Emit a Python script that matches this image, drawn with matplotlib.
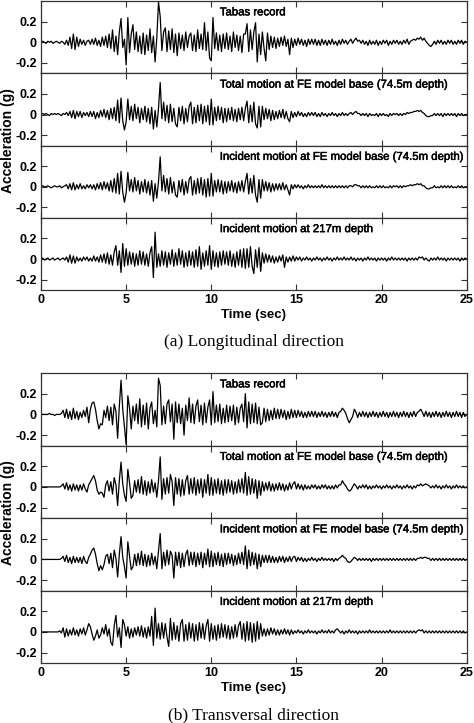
import numpy as np
import matplotlib
matplotlib.use('Agg')
import matplotlib.pyplot as plt
import matplotlib.patheffects as pe

plt.rcParams['font.family'] = ['Liberation Sans', 'DejaVu Sans']

# Accelerations, in hundredths of g, one sample every 0.1 s
# (one line per second, last value at t = 25 s).
DT = 0.1

LON_TABAS = [
    0, 1, 0, -1, 1, 0, 1, -1, 0, 1,
    0, -1, 1, 0, -2, 2, -3, 5, -6, 8,
    -7, 5, -4, 3, -2, 2, -3, 1, 2, -2,
    3, -2, 4, -3, 2, -4, 5, -3, 6, -5,
    8, -6, 12, -9, 6, -12, 10, 23, -5, 3,
    -22, 24, -10, 8, 17, -7, 10, -9, 6, -11,
    9, -12, 7, -8, 13, -10, 6, -19, 4, 39,
    25, -8, 10, 14, -9, 11, -7, 13, -10, 8,
    -13, 9, -6, 7, -8, 10, -5, 6, 9, -8,
    7, -9, 12, -6, 8, -7, 19, -8, 10, -15,
    -18, 24, -6, 9, -8, 7, -9, 8, -6, 9,
    -7, 6, -9, 10, -5, 7, -8, 6, -10, 8,
    8, 18, -9, 12, -7, 10, 19, -19, 8, -12,
    10, -6, -18, 9, -7, 6, -5, 5, -6, 4,
    -4, 5, -3, 6, -4, 3, -12, 4, -5, 3,
    -3, 4, -2, 3, -3, 2, -4, 3, -2, 3,
    -2, 3, -3, 2, -3, 3, -2, 2, -3, 2,
    -2, 3, -2, 1, -3, 2, -2, 3, -1, 2,
    -2, 1, 3, -1, 2, 4, 1, 2, -1, 2,
    -2, 1, -3, 2, -2, 1, -2, 2, -3, 1,
    -2, 2, -1, 2, -3, 1, -2, 2, -1, 2,
    -2, 1, -2, 2, -1, 3, -2, 1, 2, 3,
    2, 4, 3, 5, 2, 4, 1, -1, -3, -4,
    -2, 1, -2, 2, -1, 2, -2, 1, -2, 2,
    -1, 2, -2, 1, -2, 2, -1, 2, -2, 1,
    0,
]

LON_TOTAL = [
    0, 1, 0, 1, 0, -1, 1, 0, 1, 0,
    1, 0, -1, 1, 0, 2, -1, 3, -3, 4,
    -4, 3, -2, 3, -3, 2, -1, 2, -2, 3,
    -2, 3, -4, 2, -3, 4, -2, 5, -3, 4,
    -5, 6, -4, 7, -6, 14, -8, 16, -6, -15,
    -7, 15, -5, 8, -6, 10, -4, 7, -8, 6,
    -5, 8, -7, 6, -9, 7, -14, 4, -12, 6,
    31, -4, 12, -6, 9, -8, 10, -7, 6, -9,
    -12, 7, -6, 8, -9, 6, -7, 8, 12, -9,
    7, -8, 9, -6, 10, -9, 8, -7, 9, -10,
    15, -10, 7, -6, 8, -5, 7, -8, 6, -7,
    6, -5, 7, -6, 5, -7, 6, -5, 7, -6,
    6, 13, -8, 9, -7, 12, -9, -13, 8, -12,
    8, -5, 6, -4, 5, -6, 4, -5, 3, -4,
    4, -3, 5, -4, 3, -4, -7, 3, -3, 2,
    -2, 3, -1, 2, -2, 1, -2, 2, -1, 2,
    -1, 2, -2, 1, -2, 2, -1, 1, -2, 1,
    -1, 2, -1, 1, -2, 1, -1, 2, -1, 1,
    -1, 1, 2, 0, 2, 3, 1, 1, -1, 1,
    -1, 1, -2, 1, -1, 0, -1, 1, -2, 1,
    -1, 1, -1, 0, -2, 1, -1, 1, 0, 1,
    -1, 1, -1, 1, 0, 2, 1, 2, 2, 3,
    3, 4, 3, 4, 2, 1, -1, -2, -2, -1,
    -1, 1, -1, 1, -1, 1, -2, 1, -1, 1,
    -1, 1, -1, 1, -2, 1, -1, 1, -1, 0,
    0,
]

LON_INC_FE = [
    0, 1, 0, 0, 1, 0, -1, 0, 1, 0,
    0, 1, -1, 0, 1, 2, -2, 3, -3, 4,
    -3, 2, -2, 3, -2, 1, -2, 2, -1, 2,
    -2, 2, -3, 3, -2, 4, -3, 5, -2, 4,
    -4, 6, -5, 8, -6, 13, -7, 15, -5, -15,
    -6, 14, -4, 7, -5, 9, -4, 6, -7, 5,
    -5, 7, -6, 5, -8, 6, -14, 3, -11, 5,
    29, -4, 11, -5, 8, -7, 9, -6, 5, -8,
    -10, 6, -5, 7, -8, 5, -6, 7, 10, -8,
    6, -7, 8, -6, 9, -8, 7, -10, 8, -9,
    13, -9, 6, -5, 7, -5, 6, -7, 5, -6,
    5, -4, 6, -5, 4, -6, 5, -4, 6, -5,
    5, 13, -7, 8, -6, 11, -8, -15, 7, -11,
    7, -4, 5, -4, 4, -5, 3, -4, 3, -3,
    3, -3, 4, -3, 2, -3, -8, 2, -2, 2,
    -1, 2, -1, 1, -2, 1, -1, 2, -1, 1,
    -1, 1, -1, 1, -1, 2, -1, 1, -1, 1,
    -1, 1, -1, 1, -1, 1, -1, 1, -1, 1,
    -1, 1, 1, 0, 2, 2, 1, 1, -1, 1,
    -1, 1, -1, 1, -1, 0, -1, 1, -1, 1,
    -1, 1, -1, 0, -1, 1, -1, 1, 0, 1,
    -1, 1, -1, 1, 0, 1, 1, 2, 1, 2,
    2, 3, 2, 3, 1, 1, -1, -2, -2, -1,
    -1, 1, -1, 0, -1, 1, -1, 1, -1, 1,
    -1, 1, -1, 0, -1, 1, -1, 1, -1, 0,
    0,
]

LON_INC_217 = [
    0, 1, -1, 0, 1, -1, 0, 1, -1, 0,
    1, -1, 0, 1, -1, 2, -3, 4, -4, 3,
    -4, 2, -2, 1, -2, 2, -1, 2, -2, 1,
    -2, 3, -2, 2, -3, 4, -3, 5, -4, 6,
    -5, 4, -6, 7, 13, -6, 8, -13, 15, -7,
    10, -6, 7, -5, 6, -7, 5, -6, 8, -5,
    7, -6, 5, -7, 6, 12, -18, 26, -8, 5,
    -7, 8, -6, 7, -8, 6, -5, 9, -7, 6,
    -6, 10, -5, 8, -8, 6, -7, 8, -6, 7,
    -8, 9, -7, 12, -10, 6, -7, 8, -6, 13,
    -10, 8, -7, 6, -8, 7, -6, 8, -5, 7,
    -6, 8, -7, 5, -8, 7, -6, 9, -8, 10,
    -9, 10, -8, 12, -7, -14, 9, -8, 11, -12,
    6, -4, 5, -3, 4, -3, 3, -4, 2, -3,
    3, -2, 4, -8, 2, -3, 2, -2, 3, -2,
    2, -1, 2, -2, 1, -1, 2, -1, 1, -2,
    1, -1, 2, -1, 1, -2, 1, -1, 2, -1,
    1, -2, 1, -1, 2, -1, 1, -1, 2, -1,
    1, -1, 2, -1, 1, -2, 1, -1, 1, -2,
    1, -1, 2, -1, 1, -1, 1, -2, 1, -1,
    1, -1, 1, -2, 1, -1, 2, -1, 1, -1,
    1, -1, 1, -1, 1, -2, 1, -1, 1, -1,
    1, -1, 2, 1, 2, -1, 1, -1, -2, 1,
    -1, 1, -1, 2, -1, 1, -1, 1, -2, 1,
    -1, 1, -1, 1, -1, 1, -2, 1, -1, 1,
    0,
]

TRA_TABAS = [
    0, 0, 0, 0, 0, 1, 0, 0, -1, 0,
    0, 0, 1, 4, -3, 5, -4, 3, -5, 6,
    -4, 3, -5, 2, -3, 4, -2, 7, -8, 5,
    11, 12, 5, -6, -14, -9, -10, 4, -3, 8,
    -6, 7, -10, 10, 3, -23, 8, 33, 5, -12,
    -29, 18, 6, -14, 8, -6, 10, -9, 15, -12,
    9, -10, 11, -14, 6, 12, -9, 4, -12, 35,
    28, -10, 8, -9, 10, 14, -7, 10, -24, 12,
    -8, 10, -9, 6, -20, 9, -6, 16, -8, 10,
    -9, 8, 14, -7, 9, -10, 11, -8, 7, 14,
    -10, 22, -8, 9, -7, 10, -9, 6, -8, 9,
    -7, 8, -6, 9, -10, 7, -8, 6, 10, -7,
    20, -13, 12, -9, 10, -8, 11, -9, 7, -10,
    -8, 6, -7, 5, -6, 4, -5, 6, -4, 5,
    -4, 5, -3, 4, -5, 3, -4, 5, -3, 4,
    -3, 4, -2, 3, -3, 2, -3, 3, -2, 3,
    -2, 3, -3, 2, -2, 3, -2, 2, -3, 2,
    -2, 3, -2, 2, -3, 2, 3, 6, 4, 1,
    -4, -8, -5, -2, 5, 2, -3, 2, -2, 3,
    -2, 2, -3, 2, -2, 3, -2, 2, -3, 2,
    -2, 3, -2, 2, -3, 2, -2, 3, -2, 2,
    -3, 2, -2, 3, -2, 2, -3, 2, -2, 3,
    -2, 2, 3, 5, 2, -2, 3, -2, 2, -3,
    2, -2, 3, -2, 2, -3, 2, -2, 3, -2,
    2, -3, 2, -2, 3, -2, 2, -3, 2, -2,
    0,
]

TRA_TOTAL = [
    0, 0, 0, 0, 0, 0, 0, 0, 0, 0,
    0, 0, 1, 3, -2, 4, -3, 2, -4, 3,
    -3, 2, -4, 2, -3, 3, -2, -5, 2, 5,
    8, 11, 6, -3, -7, -5, -6, -10, 2, 6,
    -4, 5, -7, 9, 2, -18, 6, 24, 3, -8,
    -14, 17, 4, -11, -8, 6, -5, 7, -6, 10,
    -7, 6, -8, 5, -6, 7, -5, 4, -10, 6,
    29, -12, 8, -7, 9, -6, 12, 5, -18, 9,
    -7, 8, -9, 7, -8, 6, 11, -7, 8, -6,
    9, -8, 7, -6, 8, -10, 7, -6, 12, -8,
    9, -8, 7, -6, 8, -7, 6, -8, 7, -6,
    7, -5, 6, -7, 5, -6, 7, -5, 8, -6,
    14, -8, 10, -7, 8, -6, 7, -11, 6, -8,
    5, -4, 4, -3, 5, -4, 3, -4, 3, -3,
    4, -3, 3, -4, 2, -3, 4, -2, 3, 5,
    -2, 3, -2, 2, -3, 2, -2, 1, -2, 2,
    -1, 2, -2, 1, -2, 2, -1, 2, -2, 1,
    -2, 1, -2, 2, -1, 2, 2, 6, 3, 1,
    -2, -4, -3, 0, 3, 1, -2, 1, -1, 2,
    -1, 2, -2, 1, -2, 1, -1, 2, -1, 1,
    -2, 1, -1, 2, -1, 1, -2, 1, -1, 2,
    -1, 1, -2, 1, -1, 2, -1, 1, -2, 1,
    -1, 2, 1, 3, 1, 2, 3, 2, 1, -1,
    1, -1, 2, -1, 1, -2, 1, -1, 2, -1,
    1, -2, 1, -1, 2, -1, 1, -1, 1, -1,
    0,
]

TRA_INC_FE = [
    0, 0, 0, 0, 0, 0, 0, 0, 0, 0,
    0, 0, 1, 3, -2, 4, -3, 2, -4, 3,
    -3, 2, -3, 2, -4, 3, -2, -4, 2, 5,
    9, 11, 5, -4, -11, -6, -10, -5, 3, 5,
    -4, 6, -8, 9, 1, -17, 5, 22, 2, -7,
    -18, 17, 3, -10, -7, 5, -6, 6, -5, 8,
    -6, 5, -7, 4, -6, 6, -5, 3, -9, 8,
    25, -9, 7, -6, 9, -5, 8, 4, -18, 7,
    -6, 7, -8, 6, -7, 5, 9, -6, 7, -5,
    7, -7, 6, -5, 7, -8, 6, -5, 10, -7,
    8, -7, 6, -5, 7, -6, 5, -7, 6, -5,
    6, -4, 5, -6, 4, -5, 6, -4, 7, -5,
    13, -9, 9, -6, 7, -5, 6, -9, 5, -7,
    4, -3, 4, -3, 4, -3, 3, -3, 2, -3,
    3, -2, 3, -3, 2, -2, 3, -2, 2, 3,
    -2, 2, -1, 2, -2, 1, -2, 1, -1, 2,
    -1, 1, -2, 1, -1, 2, -1, 1, -1, 1,
    -1, 1, -2, 1, -1, 1, 2, 4, 2, 1,
    -2, -3, -2, 0, 2, 1, -1, 1, -1, 1,
    -1, 1, -1, 1, -2, 1, -1, 1, -1, 1,
    -1, 1, -1, 1, -1, 1, -1, 1, -1, 1,
    -1, 1, -1, 1, -1, 1, -1, 1, -1, 1,
    -1, 1, 1, 2, 1, 2, 2, 1, 1, -1,
    1, -1, 1, -1, 1, -1, 1, -1, 1, -1,
    1, -1, 1, -1, 1, -1, 1, -1, 1, -1,
    0,
]

TRA_INC_217 = [
    0, 0, 0, 0, 0, 0, 0, 0, 0, 0,
    0, 1, -1, 4, -5, 3, -4, 2, -3, 4,
    -3, 2, -4, 3, -2, 4, -3, 2, 8, 5,
    -2, -8, -4, 2, -6, -3, 4, -2, 7, -4,
    3, -10, -13, 6, 16, -5, 4, -15, 12, 7,
    -4, 5, -6, 3, -5, 4, -3, 5, -4, 6,
    -5, 4, -6, 5, -4, 15, -13, 23, -6, 8,
    -7, 9, -6, 8, -5, -14, 13, -8, 9, -7,
    6, -9, 8, 12, -9, 7, -8, 9, -6, 8,
    -9, 7, -8, 9, -6, 8, -7, 6, 12, -9,
    8, -7, 6, -8, 7, -6, 8, -5, 7, -6,
    6, -7, 5, -6, 7, -5, 6, 10, -7, 8,
    -9, 10, -8, 9, -10, 8, -9, 10, -7, 8,
    -4, 3, -4, 3, -3, 4, -2, 3, -3, 2,
    -3, 2, -2, 3, -2, 2, -3, 2, -2, 1,
    -1, 2, -1, 1, -2, 1, -1, 2, -1, 1,
    -1, 1, -2, 1, -1, 2, -1, 1, -1, 2,
    -1, 1, -1, 2, 3, 1, -1, 1, -2, 1,
    -1, 2, -1, 1, -1, 1, -2, 1, -1, 1,
    -1, 1, -1, 2, -1, 1, -1, 1, -1, 1,
    -1, 1, -1, 1, -1, 2, -1, 1, -1, 1,
    -1, 1, -1, 1, -1, 1, -1, 1, -1, 1,
    -1, 1, 2, 1, 2, -1, 1, -1, 1, -1,
    1, -1, 1, -1, 1, -1, 1, -1, 1, -1,
    1, -1, 1, -1, 1, -1, 1, -1, 1, -1,
    0,
]

PANEL_LABELS = [
    'Tabas record',
    'Total motion at FE model base (74.5m depth)',
    'Incident motion at FE model base (74.5m depth)',
    'Incident motion at 217m depth',
]
X_TICKS = [0, 5, 10, 15, 20, 25]
Y_TICKS = [-0.2, 0, 0.2]
Y_TICK_LABELS = ['-0.2', '0', '0.2']

W, H = 474, 723
LEFT, RIGHT = 41 / W, 466.7 / W

# a hairline outline thickens the regular-weight panel titles a little,
# like the scanned original
HEAVY = [pe.withStroke(linewidth=0.35, foreground='black')]


def draw_group(fig, top_px, bottom_px, series, caption, caption_px):
    """Stack the four traces of one direction between two pixel rows."""
    panel_h = (bottom_px - top_px) / 4
    for i, (vals, label) in enumerate(zip(series, PANEL_LABELS)):
        y0 = 1 - (top_px + (i + 1) * panel_h) / H
        ax = fig.add_axes([LEFT, y0, RIGHT - LEFT, panel_h / H])
        acc = np.asarray(vals, dtype=float) / 100.0
        t = np.arange(len(acc)) * DT
        ax.plot(t, acc, color='black', linewidth=0.9)
        ax.set_xlim(0, 25)
        ax.set_ylim(-0.3, 0.4)
        ax.set_xticks(X_TICKS)
        ax.set_yticks(Y_TICKS)
        ax.set_yticklabels(Y_TICK_LABELS)
        ax.tick_params(direction='in', top=True, right=True, length=4,
                       width=0.8, labelsize=9, pad=3, color='#333333')
        for lab in ax.get_xticklabels() + ax.get_yticklabels():
            lab.set_fontweight('bold')
        for sp in ax.spines.values():
            sp.set_linewidth(0.9)
            sp.set_color('#333333')
        ax.text(10.5, 0.29, label, ha='left', va='center', fontsize=8.2,
                path_effects=HEAVY)
        if i < 3:
            ax.tick_params(labelbottom=False)
        else:
            ax.set_xlabel('Time (sec)', fontsize=9.5, fontweight='bold',
                          labelpad=2)
    fig.text(8 / W, 1 - ((top_px + bottom_px) / 2 - 5) / H,
             'Acceleration (g)', rotation=90, ha='center', va='center',
             fontsize=10, fontweight='bold')
    fig.text(0.5 * (LEFT + RIGHT), 1 - caption_px / H, caption,
             ha='center', va='center', fontsize=12.5,
             family=['Liberation Serif', 'DejaVu Serif'])


fig = plt.figure(figsize=(W / 100, H / 100), dpi=100)
draw_group(fig, 1, 290, [LON_TABAS, LON_TOTAL, LON_INC_FE, LON_INC_217],
           '(a) Longitudinal direction', 342)
draw_group(fig, 373, 663, [TRA_TABAS, TRA_TOTAL, TRA_INC_FE, TRA_INC_217],
           '(b) Transversal direction', 715)
fig.savefig('out.png', dpi=100)
plt.close(fig)
